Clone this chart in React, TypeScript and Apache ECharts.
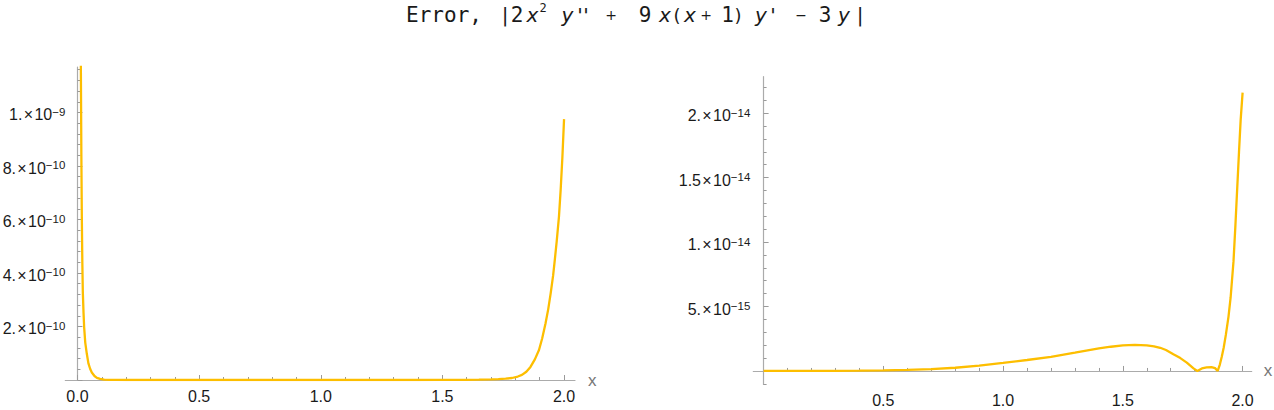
import React, { useEffect, useRef } from "react";
import * as echarts from "echarts";

// ---------- data ----------
const leftX = [0.012, 0.014, 0.016, 0.018, 0.02, 0.022, 0.025, 0.0275, 0.032, 0.0386, 0.045, 0.052, 0.059, 0.07, 0.08, 0.093, 0.11, 0.13, 0.16, 0.2, 0.3, 0.5, 0.8, 1.0, 1.2, 1.4, 1.5, 1.6, 1.65, 1.7, 1.73, 1.76, 1.786, 1.81, 1.827, 1.845, 1.862, 1.88, 1.897, 1.91, 1.924, 1.935, 1.945, 1.955, 1.962, 1.97, 1.979, 1.986, 1.993, 2.0];
const leftErr = [1.6e-9, 1.16e-9, 8.4e-10, 6.0e-10, 4.4e-10, 3.3e-10, 2.5e-10, 1.97e-10, 1.4e-10, 9.7e-11, 6.2e-11, 4.2e-11, 2.8e-11, 1.5e-11, 8e-12, 4e-12, 1.5e-12, 6e-13, 2e-13, 8e-14, 2e-14, 1e-14, 1e-14, 1e-14, 1e-14, 2e-14, 1e-13, 5e-13, 1.2e-12, 2.2e-12, 3.2e-12, 4.8e-12, 7.5e-12, 1.3e-11, 1.9e-11, 3.1e-11, 4.9e-11, 7.7e-11, 1.12e-10, 1.55e-10, 2.12e-10, 2.65e-10, 3.24e-10, 3.9e-10, 4.49e-10, 5.2e-10, 6.1e-10, 7.1e-10, 8.3e-10, 9.75e-10];

const rightX = [0.0, 0.1, 0.2, 0.3, 0.4, 0.5, 0.6, 0.7, 0.8, 0.9, 1.0, 1.1, 1.2, 1.3, 1.4, 1.45, 1.5, 1.55, 1.6, 1.63, 1.656, 1.68, 1.711, 1.74, 1.767, 1.795, 1.811, 1.83, 1.85, 1.87, 1.885, 1.896, 1.905, 1.913, 1.921, 1.93, 1.941, 1.95, 1.962, 1.97, 1.976, 1.985, 1.992, 2.0];
const rightErr = [0, 0, 5e-18, 1e-17, 2e-17, 4e-17, 8e-17, 1.4e-16, 2.5e-16, 4.2e-16, 6.2e-16, 8.5e-16, 1.1e-15, 1.42e-15, 1.75e-15, 1.88e-15, 1.98e-15, 2.03e-15, 1.98e-15, 1.91e-15, 1.8e-15, 1.63e-15, 1.3e-15, 1.0e-15, 6.5e-16, 2e-16, 0, 2e-16, 2.8e-16, 3e-16, 2.2e-16, 0, 5e-16, 1.1e-15, 1.8e-15, 2.8e-15, 4.2e-15, 5.7e-15, 8.5e-15, 1.13e-14, 1.36e-14, 1.7e-14, 1.95e-14, 2.16e-14];

// tick labels
const leftXTicks = [0, 0.5, 1.0, 1.5, 2.0];
const leftXMinor = [0.1, 0.2, 0.3, 0.4, 0.6, 0.7, 0.8, 0.9, 1.1, 1.2, 1.3, 1.4, 1.6, 1.7, 1.8, 1.9];
const rightXTicks = [0.5, 1.0, 1.5, 2.0];
const rightXMinor = [0.1, 0.2, 0.3, 0.4, 0.6, 0.7, 0.8, 0.9, 1.1, 1.2, 1.3, 1.4, 1.6, 1.7, 1.8, 1.9];

const leftYTicks = [0, 2e-10, 4e-10, 6e-10, 8e-10, 1e-9];
const leftYMant = ["", "2.", "4.", "6.", "8.", "1."];
const leftYExp = ["", "−10", "−10", "−10", "−10", "−9"];
const leftYMinor = [4e-11, 8e-11, 1.2e-10, 1.6e-10, 2.4e-10, 2.8e-10, 3.2e-10, 3.6e-10, 4.4e-10, 4.8e-10, 5.2e-10, 5.6e-10, 6.4e-10, 6.8e-10, 7.2e-10, 7.6e-10, 8.4e-10, 8.8e-10, 9.2e-10, 9.6e-10, 1.04e-9, 1.08e-9, 1.12e-9, 1.16e-9];

const rightYTicks = [0, 5e-15, 1e-14, 1.5e-14, 2e-14];
const rightYMant = ["", "5.", "1.", "1.5", "2."];
const rightYExp = ["", "−15", "−14", "−14", "−14"];
const rightYMinor = [-1e-15, 1e-15, 2e-15, 3e-15, 4e-15, 6e-15, 7e-15, 8e-15, 9e-15, 1.1e-14, 1.2e-14, 1.3e-14, 1.4e-14, 1.6e-14, 1.7e-14, 1.8e-14, 1.9e-14, 2.1e-14, 2.2e-14];

// ---------- styling ----------
const LINE = "#FDBE00";
const AXIS = "#ababab";
const TICK = "#9a9a9a";
const LABEL = "#1a1a1a";
const SANS = "Liberation Sans";

const zip = (xs: number[], ys: number[]) => xs.map((x, i) => [x, ys[i]]);

function expFormatter(ticks: number[], mant: string[], exps: string[]) {
  return (v: number) => {
    const i = ticks.findIndex((t) => Math.abs(t - v) <= Math.abs(t) * 1e-6 + 1e-30);
    if (i < 0 || !mant[i]) return "";
    return `{b|${mant[i]}\u200a×\u200a10}{s|${exps[i]}}`;
  };
}

const richY = {
  b: { fontSize: 16, fontFamily: SANS, color: LABEL, lineHeight: 18 },
  s: { fontSize: 11.5, fontFamily: SANS, color: LABEL, lineHeight: 12, verticalAlign: "top" },
};

function xAxes(gridIndex: number, yIdx: number, min: number, max: number, majors: number[], minors: number[], gap: number) {
  return [
    {
      type: "value",
      gridIndex,
      min,
      max,
      position: "bottom",
      axisLine: { show: true, onZero: true, onZeroAxisIndex: yIdx, lineStyle: { color: AXIS, width: 1.2 } },
      axisTick: { show: true, inside: true, length: 5, customValues: majors, lineStyle: { color: TICK, width: 1 } },
      axisLabel: {
        show: true,
        customValues: majors,
        margin: 8,
        fontSize: 16,
        fontFamily: SANS,
        color: LABEL,
        formatter: (v: number) => v.toFixed(1),
      },
      splitLine: { show: false },
      name: "x",
      nameLocation: "end",
      nameGap: gap,
      nameTextStyle: { fontSize: 17, fontFamily: SANS, color: "#777777" },
    },
    {
      type: "value",
      gridIndex,
      min,
      max,
      position: "bottom",
      axisLine: { show: false, onZero: true, onZeroAxisIndex: yIdx },
      axisTick: { show: true, inside: true, length: 3, customValues: minors, lineStyle: { color: TICK, width: 1 } },
      axisLabel: { show: false },
      splitLine: { show: false },
    },
  ];
}

function yAxes(gridIndex: number, xIdx: number, min: number, max: number, majors: number[], minors: number[], mant: string[], exps: string[], margin: number) {
  return [
    {
      type: "value",
      gridIndex,
      min,
      max,
      position: "left",
      axisLine: { show: true, onZero: true, onZeroAxisIndex: xIdx, lineStyle: { color: AXIS, width: 1.2 } },
      axisTick: { show: true, inside: true, length: 5, customValues: majors, lineStyle: { color: TICK, width: 1 } },
      axisLabel: {
        show: true,
        customValues: majors,
        margin,
        padding: [5, 0, 0, 0],
        formatter: expFormatter(majors, mant, exps),
        rich: richY,
      },
      splitLine: { show: false },
    },
    {
      type: "value",
      gridIndex,
      min,
      max,
      position: "left",
      axisLine: { show: false, onZero: true, onZeroAxisIndex: xIdx },
      axisTick: { show: true, inside: true, length: 3, customValues: minors, lineStyle: { color: TICK, width: 1 } },
      axisLabel: { show: false },
      splitLine: { show: false },
    },
  ];
}

type Part = [string, number, string];
// title pieces: text, centre x, kind
const titleLayout: Part[] = [
  ["Error,", 444, "mono"],
  ["|", 505, "sans"],
  ["2", 517, "mono"],
  ["x", 532.5, "ital"],
  ["2", 543, "sup"],
  ["y", 567.5, "ital"],
  ["'", 580, "sans"],
  ["'", 586, "sans"],
  ["+", 611, "op"],
  ["9", 645, "mono"],
  ["x", 665, "ital"],
  ["(", 677, "paren"],
  ["x", 690, "ital"],
  ["+", 706, "op"],
  ["1", 727.5, "mono"],
  [")", 738, "paren"],
  ["y", 761, "ital"],
  ["'", 773, "sans"],
  ["−", 801, "op"],
  ["3", 825, "mono"],
  ["y", 844, "ital"],
  ["|", 860, "sans"],
];

function titleGraphic() {
  const TY = 15;
  return titleLayout.map(([text, x, kind]) => {
    let font = "21px 'DejaVu Sans Mono'";
    let y = TY;
    if (kind === "sans") font = "20px 'DejaVu Sans'";
    if (kind === "ital") font = "italic 20px 'DejaVu Sans'";
    if (kind === "sup") { font = "12px 'DejaVu Sans Mono'"; y = 8; }
    if (kind === "op") font = "14px 'DejaVu Sans'";
    if (kind === "paren") font = "18px 'DejaVu Sans'";
    return {
      type: "text",
      x,
      y,
      silent: true,
      style: { text, font, fill: "#1a1a1a", align: "center", verticalAlign: "middle" },
    };
  });
}

export default function App() {
  const ref = useRef<HTMLDivElement>(null);
  useEffect(() => {
    if (!ref.current) return;
    const chart = echarts.init(ref.current, undefined, { renderer: "svg" });
    const option: any = {
      animation: false,
      backgroundColor: "#ffffff",
      graphic: titleGraphic(),
      grid: [
        { left: 65.3, top: 67, width: 509.7, height: 313, containLabel: false, outerBoundsMode: "none" },
        { left: 753.3, top: 76.7, width: 498.4, height: 307.8, containLabel: false, outerBoundsMode: "none" },
      ],
      xAxis: [
        ...xAxes(0, 0, -0.05, 2.045, leftXTicks, leftXMinor, 13),
        ...xAxes(1, 2, -0.043, 2.038, rightXTicks, rightXMinor, 12),
      ],
      yAxis: [
        ...yAxes(0, 0, 0, 1.17e-9, leftYTicks, leftYMinor, leftYMant, leftYExp, 0),
        ...yAxes(1, 2, -1.05e-15, 2.283e-14, rightYTicks, rightYMinor, rightYMant, rightYExp, 3),
      ],
      series: [
        {
          type: "line",
          xAxisIndex: 0,
          yAxisIndex: 0,
          data: zip(leftX, leftErr),
          showSymbol: false,
          symbol: "none",
          clip: true,
          lineStyle: { color: LINE, width: 2.3 },
          silent: true,
        },
        {
          type: "line",
          xAxisIndex: 2,
          yAxisIndex: 2,
          data: zip(rightX, rightErr),
          showSymbol: false,
          symbol: "none",
          clip: true,
          lineStyle: { color: LINE, width: 2.3 },
          silent: true,
        },
      ],
    };
    chart.setOption(option);
    return () => chart.dispose();
  }, []);
  return (
    <div
      ref={ref}
      style={{ position: "absolute", left: 0, top: 0, width: 1274, height: 410, background: "#fff" }}
    />
  );
}
